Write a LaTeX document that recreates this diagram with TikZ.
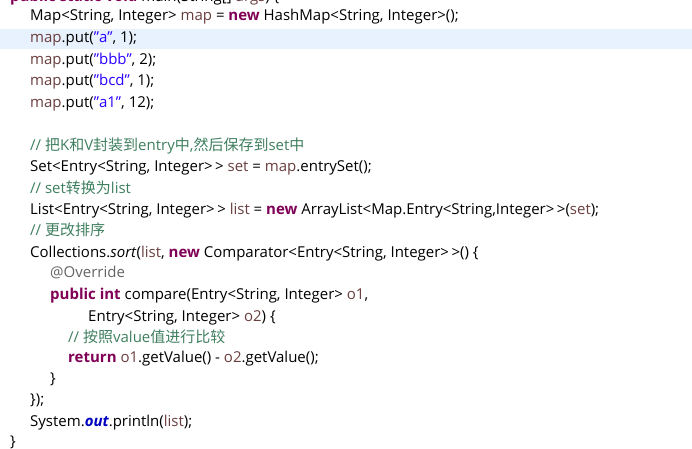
\documentclass[tikz,border=0pt]{standalone}
\usepackage{fontspec}
\setmainfont{Open Sans}[Ligatures=ResetAll]
\newfontfamily\cjk{Noto Sans CJK SC}[Ligatures=ResetAll]
\definecolor{kw}{HTML}{7F0055}
\definecolor{vr}{HTML}{6A3E3E}
\definecolor{st}{HTML}{2A00FF}
\definecolor{cm}{HTML}{3F7F5F}
\definecolor{an}{HTML}{646464}
\definecolor{fd}{HTML}{0000C0}
\definecolor{hl}{HTML}{E8F2FE}
\newcommand{\K}[1]{\textcolor{kw}{\bfseries #1}}
\newcommand{\V}[1]{\textcolor{vr}{#1}}
\newcommand{\Sx}[1]{\textcolor{st}{#1}}
\newcommand{\C}[1]{\textcolor{cm}{#1}}
\newcommand{\Z}[1]{{\cjk #1}}
\newcommand{\GT}{\textgreater}
\newcommand{\GG}{\textgreater\kern2.5bp\textgreater}
\newcommand{\LT}{\textless}
\begin{document}
\begin{tikzpicture}[x=1bp,y=-1bp,
  code/.style={anchor=base west,inner sep=0pt,font=\fontsize{15bp}{17bp}\selectfont,text=black}]
\useasboundingbox (0,0) rectangle (692,449);
\fill[hl] (0,29) rectangle (692,49.5);
\node[code] (l0) at (10,2) {\K{public static void} main(String[] \V{args}) \{};
\node[code] (l1) at (30,21) {Map\LT String, Integer\GT{} \V{map} = \K{new} HashMap\LT String, Integer\GT();};
\node[code] (l2) at (30,43) {\V{map}.put(\Sx{"a"}, 1);};
\node[code] (l3) at (30,64.5) {\V{map}.put(\Sx{"bbb"}, 2);};
\node[code] (l4) at (30,86) {\V{map}.put(\Sx{"bcd"}, 1);};
\node[code] (l5) at (30,108) {\V{map}.put(\Sx{"a1"}, 12);};
\node[code] (l6) at (30,151) {\C{// \Z{把}K\Z{和}V\Z{封装到}entry\Z{中},\Z{然后保存到}set\Z{中}}};
\node[code] (l7) at (30,172) {Set\LT Entry\LT String, Integer\GG{} \V{set} = \V{map}.entrySet();};
\node[code] (l8) at (30,193.5) {\C{// set\Z{转换为}list}};
\node[code] (l9) at (30,215) {List\LT Entry\LT String, Integer\GG{} \V{list} = \K{new} ArrayList\LT Map.Entry\LT String,Integer\GG(\V{set});};
\node[code] (l10) at (30,236) {\C{// \Z{更改排序}}};
\node[code] (l11) at (30,258) {Collections.\textit{sort}(\V{list}, \K{new} Comparator\LT Entry\LT String, Integer\GG() \{};
\node[code] (l12) at (50,278) {\textcolor{an}{@Override}};
\node[code] (l13) at (50,300) {\K{public int} compare(Entry\LT String, Integer\GT{} \V{o1},};
\node[code] (l14) at (88,321.5) {Entry\LT String, Integer\GT{} \V{o2}) \{};
\node[code] (l15) at (68,343) {\C{// \Z{按照}value\Z{值进行比较}}};
\node[code] (l16) at (68,362) {\K{return} \V{o1}.getValue() - \V{o2}.getValue();};
\node[code] (l17) at (50,383) {\}};
\node[code] (l18) at (30,404.5) {\});};
\node[code] (l19) at (30,426) {System.\textcolor{fd}{\bfseries\itshape out}.println(\V{list});};
\node[code] (l20) at (10,446) {\}};
\end{tikzpicture}
\end{document}
